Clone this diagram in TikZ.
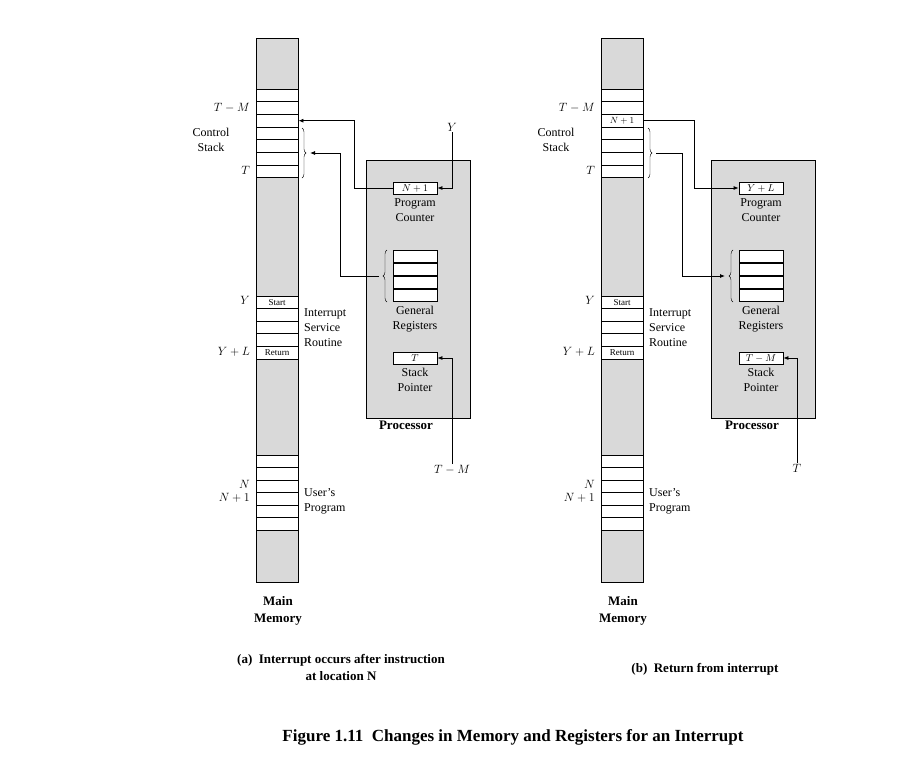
\documentclass[tikz,border=0pt]{standalone}
\usepackage{fontspec}
\setmainfont{Liberation Serif}
\usetikzlibrary{arrows.meta, positioning, calc, decorations.pathreplacing}

\tikzset{
  mem/.style={draw, thick, fill=gray!30, minimum width=42pt, minimum height=544pt, inner sep=0pt},
  cell/.style={draw, thick, fill=white, minimum width=42pt, minimum height=12.6pt, inner sep=0pt, font=\fontsize{9}{9}\selectfont},
  reg/.style={draw, thick, fill=white, minimum width=44pt, minimum height=12pt, inner sep=0pt, font=\fontsize{10}{10}\selectfont},
  proc/.style={draw, thick, fill=gray!30, minimum width=104pt, minimum height=258pt, inner sep=0pt},
  lbl/.style={align=center, inner sep=1pt, font=\fontsize{12}{15}\selectfont},
  brc/.style={decorate, decoration={brace, amplitude=4pt}},
  link/.style={->, thick, >={Latex[length=5pt,width=4pt]}}
}

\begin{document}
\begin{tikzpicture}[x=1pt, y=-1pt, font=\fontsize{12}{15}\selectfont]
\useasboundingbox (0,0) rectangle (922,782);

% (a) Interrupt occurs
\node[mem] (amem) at (277,310) {};
\foreach \i in {0,...,6} \node[cell] (acs\i) at (277,{95.3+12.7*\i}) {};
\foreach \i/\t in {0/Start,1/,2/,3/,4/Return} \node[cell] (ais\i) at (277,{302.3+12.6*\i}) {\t};
\foreach \i in {0,...,5} \node[cell] (aup\i) at (277,{461.2+12.5*\i}) {};
\node[lbl, anchor=east] at (251,108) {$T-M$};
\node[lbl] at (211,140) {Control\\Stack};
\node[lbl, anchor=east] at (251,170) {$T$};
\node[lbl, anchor=east] at (251,300) {$Y$};
\node[lbl, anchor=east] at (251,352) {$Y+L$};
\node[lbl, anchor=east] at (251,484) {$N$};
\node[lbl, anchor=east] at (251,498) {$N+1$};
\node[lbl, anchor=west, align=left] at (303,328) {Interrupt\\Service\\Routine};
\node[lbl, anchor=west, align=left] at (303,501) {User's\\Program};
\node[lbl, font=\fontsize{13}{17}\selectfont\bfseries] at (278,611) {Main\\Memory};
\draw[brc] (302,128) -- (302,178);
\coordinate (asttip) at (310,153);

\node[proc] (aproc) at (418,289) {};
\node[lbl, font=\fontsize{13}{15}\selectfont\bfseries] at (406,425) {Processor};
\node[reg] (apc) at (415,188) {$N+1$};
\node[lbl, below=3pt of apc] {Program\\Counter};
\foreach \i in {0,...,3} \node[reg] (agr\i) at (415,{256.5+13*\i}) {};
\node[lbl, below=3pt of agr3] {General\\Registers};
\draw[brc] (387,302) -- (387,250);
\coordinate (agrtip) at (379,276);
\node[reg] (asp) at (415,358) {$T$};
\node[lbl, below=3pt of asp] {Stack\\Pointer};
\node[lbl] (ay) at (452,127) {$Y$};
\node[lbl] (atm) at (452,470) {$T-M$};

\draw[link] (apc.west) -- ++(-38,0) |- (acs2.east);
\draw[link] (agrtip) -- (340,276) |- (asttip);
\draw[link] (ay.south) |- (apc.east);
\draw[link] (atm.north) |- (asp.east);

\node[lbl, font=\fontsize{13}{17}\selectfont\bfseries] at (341,667) {(a)\ \ Interrupt occurs after instruction\\at location N};

% (b) Return from interrupt
\node[mem] (bmem) at (622,310) {};
\foreach \i in {0,...,6} \node[cell] (bcs\i) at (622,{95.3+12.7*\i}) {};
\node[cell] at (bcs2) {$N+1$};
\foreach \i/\t in {0/Start,1/,2/,3/,4/Return} \node[cell] (bis\i) at (622,{302.3+12.6*\i}) {\t};
\foreach \i in {0,...,5} \node[cell] (bup\i) at (622,{461.2+12.5*\i}) {};
\node[lbl, anchor=east] at (596,108) {$T-M$};
\node[lbl] at (556,140) {Control\\Stack};
\node[lbl, anchor=east] at (596,170) {$T$};
\node[lbl, anchor=east] at (596,300) {$Y$};
\node[lbl, anchor=east] at (596,352) {$Y+L$};
\node[lbl, anchor=east] at (596,484) {$N$};
\node[lbl, anchor=east] at (596,498) {$N+1$};
\node[lbl, anchor=west, align=left] at (648,328) {Interrupt\\Service\\Routine};
\node[lbl, anchor=west, align=left] at (648,501) {User's\\Program};
\node[lbl, font=\fontsize{13}{17}\selectfont\bfseries] at (623,611) {Main\\Memory};
\draw[brc] (648,128) -- (648,178);
\coordinate (bsttip) at (656,153);

\node[proc] (bproc) at (763,289) {};
\node[lbl, font=\fontsize{13}{15}\selectfont\bfseries] at (752,425) {Processor};
\node[reg] (bpc) at (761,188) {$Y+L$};
\node[lbl, below=3pt of bpc] {Program\\Counter};
\foreach \i in {0,...,3} \node[reg] (bgr\i) at (761,{256.5+13*\i}) {};
\node[lbl, below=3pt of bgr3] {General\\Registers};
\draw[brc] (733,302) -- (733,250);
\coordinate (bgrtip) at (725,276);
\node[reg] (bsp) at (761,358) {$T-M$};
\node[lbl, below=3pt of bsp] {Stack\\Pointer};
\node[lbl] (bt) at (797,468) {$T$};

\draw[link] (bcs2.east) -- ++(51,0) |- (bpc.west);
\draw[link] (bsttip) -- (682,153) |- (bgrtip);
\draw[link] (bt.north) |- (bsp.east);

\node[lbl, font=\fontsize{13}{17}\selectfont\bfseries] at (705,669) {(b)\ \ Return from interrupt};

\node[font=\fontsize{17}{20}\selectfont\bfseries] at (513,737) {Figure 1.11\ \ Changes in Memory and Registers for an Interrupt};
\end{tikzpicture}
\end{document}
